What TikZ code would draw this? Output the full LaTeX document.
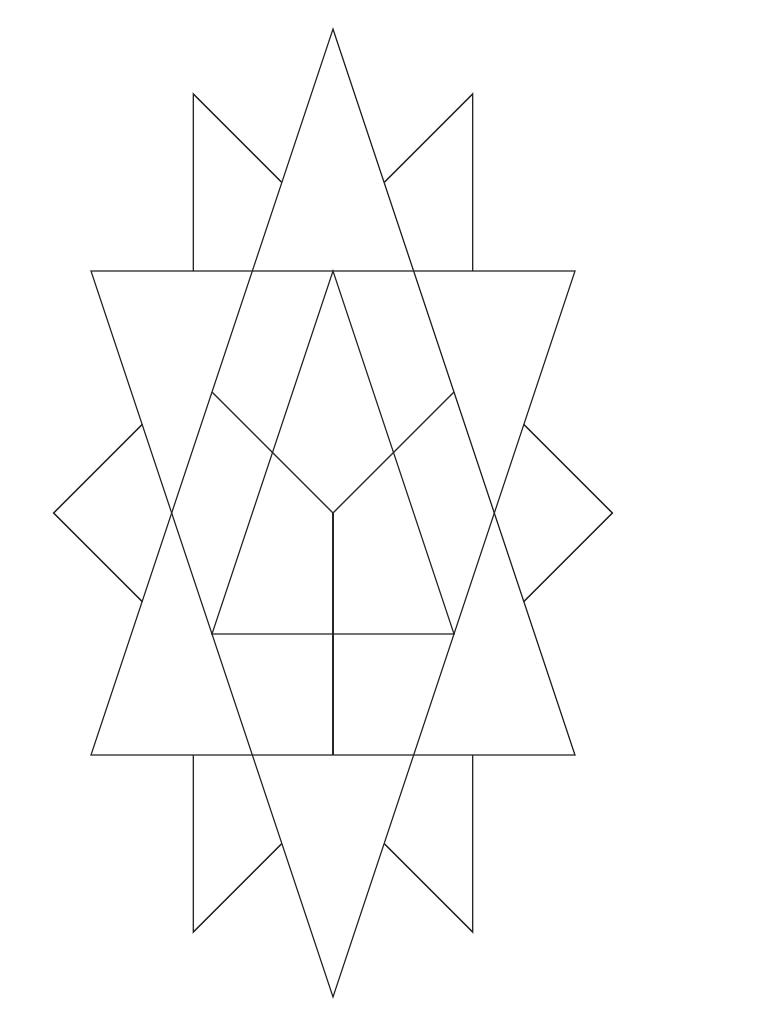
\documentclass[tikz,border=0pt]{standalone}
\usetikzlibrary{calc}
\tikzset{
  line-style/.style = {
    draw=black!85, line width=0.28pt, line join=miter
  },
  flag-style/.style = {
    line-style, line width=0.32pt
  }
}
\newcommand\flagTip{1.155}
\newcommand\flagTop{3.464}
\newcommand\flagCut{0.423}
\newcommand\flagLow{2.732}
\begin{document}
\begin{tikzpicture}[x=1cm,y=1cm]
  \useasboundingbox (-2.752,-4.223) rectangle (3.595,4.24);

  % the two big triangles
  \coordinate (apexTop) at (0,4);
  \coordinate (apexBottom) at (0,-4);
  \coordinate (baseLL) at (-2,-2);
  \coordinate (baseLR) at (2,-2);
  \coordinate (baseUL) at (-2,2);
  \coordinate (baseUR) at (2,2);
  \path[line-style] (apexTop) -- (baseLL) -- (baseLR) -- cycle;
  \path[line-style] (apexBottom) -- (baseUL) -- (baseUR) -- cycle;

  % inner triangle and the Y
  \coordinate (innerApex) at (0,2);
  \coordinate (innerL) at (-1,-1);
  \coordinate (innerR) at (1,-1);
  \coordinate (centre) at (0,0);
  \coordinate (armL) at (-1,1);
  \coordinate (armR) at (1,1);
  \coordinate (stemEnd) at (0,-2);
  \path[line-style] (innerApex) -- (innerL) -- (innerR) -- cycle;
  \path[line-style] (armL) -- (centre) -- (armR);
  \path[line-style] (centre) -- (stemEnd);

  % flags round the star
  \foreach \s in {1,-1} {
    \path[flag-style] (\s*\flagTip,2) -- (\s*\flagTip,\flagTop) -- (\s*\flagCut,\flagLow);
    \path[flag-style] (\s*\flagTip,-2) -- (\s*\flagTip,-\flagTop) -- (\s*\flagCut,-\flagLow);
    \path[flag-style] (\s*1.577,0.732) -- (\s*2.309,0) -- (\s*1.577,-0.732);
  }
\end{tikzpicture}
\end{document}
